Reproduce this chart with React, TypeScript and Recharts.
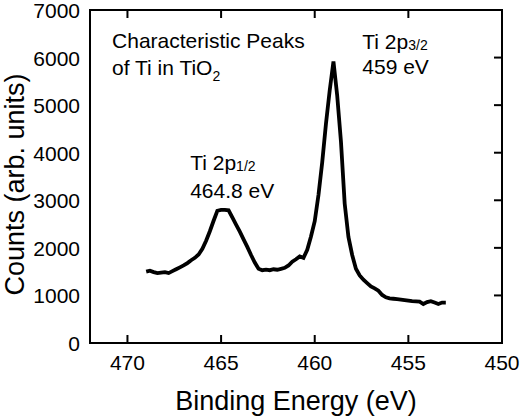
import React from 'react'
import { LineChart, Line, XAxis, YAxis, ReferenceDot } from 'recharts'

const energies = [
  469.0, 468.8, 468.6, 468.4, 468.2, 468.0, 467.8, 467.6, 467.4, 467.2,
  467.0, 466.8, 466.6, 466.4, 466.2, 466.0, 465.8, 465.6, 465.4, 465.2,
  465.0, 464.8, 464.6, 464.4, 464.2, 464.0, 463.8, 463.6, 463.4, 463.2,
  463.0, 462.8, 462.6, 462.4, 462.2, 462.0, 461.8, 461.6, 461.4, 461.2,
  461.0, 460.8, 460.6, 460.4, 460.2, 460.0, 459.8, 459.6, 459.4, 459.2,
  459.0, 458.8, 458.6, 458.4, 458.2, 458.0, 457.8, 457.6, 457.4, 457.2,
  457.0, 456.8, 456.6, 456.4, 456.2, 456.0, 455.8, 455.6, 455.4, 455.2,
  455.0, 454.8, 454.6, 454.4, 454.2, 454.0, 453.8, 453.6, 453.4, 453.2,
  453.0,
]

const counts = [
  1500, 1520, 1490, 1470, 1480, 1490, 1470, 1510, 1550, 1590,
  1630, 1680, 1740, 1790, 1860, 1980, 2150, 2350, 2570, 2780,
  2800, 2800, 2790, 2640, 2490, 2340, 2180, 2020, 1850, 1690,
  1560, 1530, 1540, 1530, 1550, 1540, 1560, 1580, 1630, 1710,
  1760, 1820, 1790, 1960, 2240, 2560, 3110, 3800, 4610, 5310,
  5920, 5200, 4240, 2930, 2230, 1850, 1560, 1420, 1330, 1260,
  1190, 1150, 1100, 1010, 960, 940, 930, 920, 910, 900,
  890, 880, 875, 870, 820, 860, 880, 850, 820, 850,
  850,
]

const xTicks = [470, 465, 460, 455, 450]
const yTicks = [0, 1000, 2000, 3000, 4000, 5000, 6000, 7000]

const X_MIN = 450
const X_MAX = 472
const Y_MAX = 7000

const data = energies.map((e, i) => ({ energy: e, counts: counts[i] }))

const CHART_W = 520
const CHART_H = 417
const MARGIN = { top: 10, right: 18, left: 0, bottom: 0 }
const Y_AXIS_W = 90
const X_AXIS_H = 74
const PLOT_X = MARGIN.left + Y_AXIS_W
const PLOT_Y = MARGIN.top
const PLOT_W = CHART_W - PLOT_X - MARGIN.right
const PLOT_H = CHART_H - PLOT_Y - X_AXIS_H - MARGIN.bottom

const FONT = '"Liberation Sans", Arial, sans-serif'
const TICK_PX = 8

// bottom label, plus inward ticks on the bottom and top edges
const BottomTick = ({ x, y, payload }: any) => {
  const edge = payload.value === X_MIN || payload.value === X_MAX
  return (
    <g>
      {!edge && <line x1={x} y1={y} x2={x} y2={y - TICK_PX} stroke="red" strokeOpacity={0} />}
      {!edge && (
        <path d={`M${x},${y}V${y - TICK_PX}M${x},${y - PLOT_H}V${y - PLOT_H + TICK_PX}`} stroke="#000" strokeWidth={2} fill="none" />
      )}
      <text x={x} y={y + 27} textAnchor="middle" fontSize={21} fontFamily={FONT} fill="#000">
        {payload.value}
      </text>
    </g>
  )
}

// left label, plus inward tick on the right edge
const LeftTick = ({ x, y, payload }: any) => {
  const edge = payload.value === 0 || payload.value === Y_MAX
  return (
    <g>
      {!edge && (
        <path d={`M${x + PLOT_W},${y}H${x + PLOT_W - TICK_PX}`} stroke="#000" strokeWidth={2} fill="none" />
      )}
      <text x={x - 10} y={y + 8} textAnchor="end" fontSize={21} fontFamily={FONT} fill="#000">
        {payload.value}
      </text>
    </g>
  )
}

const Note = (lines: React.ReactNode[], gap: number) => ({ viewBox }: any) => {
  const x = viewBox.x + viewBox.width / 2
  const y = viewBox.y + viewBox.height / 2
  return (
    <text x={x} y={y} fontSize={21} fontFamily={FONT} fill="#000">
      {lines.map((l, i) => (
        <tspan key={i} x={x} dy={i === 0 ? 0 : gap}>
          {l}
        </tspan>
      ))}
    </text>
  )
}

export default function App() {
  return (
    <div style={{ position: 'absolute', left: 0, top: 0 }}>
      <LineChart width={CHART_W} height={CHART_H} data={data} margin={MARGIN}>
        <XAxis
          dataKey="energy"
          type="number"
          domain={[X_MIN, X_MAX]}
          reversed
          ticks={xTicks}
          interval={0}
          height={X_AXIS_H}
          tickSize={0}
          tickMargin={0}
          tickLine={false}
          axisLine={false}
          tick={<BottomTick />}
        />
        <YAxis
          type="number"
          domain={[0, Y_MAX]}
          ticks={yTicks}
          interval={0}
          width={Y_AXIS_W}
          tickSize={0}
          tickMargin={0}
          tickLine={false}
          axisLine={false}
          tick={<LeftTick />}
        />

        {/* plot frame */}
        <rect x={PLOT_X} y={PLOT_Y} width={PLOT_W} height={PLOT_H} fill="none" stroke="#000" strokeWidth={2} />

        {/* axis titles */}
        <text
          x={PLOT_X + PLOT_W / 2}
          y={PLOT_Y + PLOT_H + 67}
          textAnchor="middle"
          fontSize={27}
          fontFamily={FONT}
          fill="#000"
        >
          Binding Energy (eV)
        </text>
        <text
          x={24}
          y={PLOT_Y + PLOT_H / 2 + 8}
          transform={`rotate(-90 24 ${PLOT_Y + PLOT_H / 2 + 8})`}
          textAnchor="middle"
          fontSize={27}
          fontFamily={FONT}
          fill="#000"
        >
          Counts (arb. units)
        </text>

        <Line
          dataKey="counts"
          stroke="#000"
          strokeWidth={3.8}
          dot={false}
          isAnimationActive={false}
        />

        <ReferenceDot
          x={470.82}
          y={6210}
          r={1}
          fill="none"
          stroke="none"
          label={{
            content: Note(
              [
                'Characteristic Peaks',
                <>
                  of Ti in TiO
                  <tspan fontSize={14} dy={6}>2</tspan>
                </>,
              ],
              27
            ),
          }}
        />
        <ReferenceDot
          x={457.46}
          y={6170}
          r={1}
          fill="none"
          stroke="none"
          label={{
            content: Note(
              [
                <>
                  Ti 2p
                  <tspan fontSize={14} dy={1}>3/2</tspan>
                </>,
                '459 eV',
              ],
              24
            ),
          }}
        />
        <ReferenceDot
          x={466.65}
          y={3640}
          r={1}
          fill="none"
          stroke="none"
          label={{
            content: Note(
              [
                <>
                  Ti 2p
                  <tspan fontSize={14} dy={1}>1/2</tspan>
                </>,
                '464.8 eV',
              ],
              27
            ),
          }}
        />
      </LineChart>
    </div>
  )
}
